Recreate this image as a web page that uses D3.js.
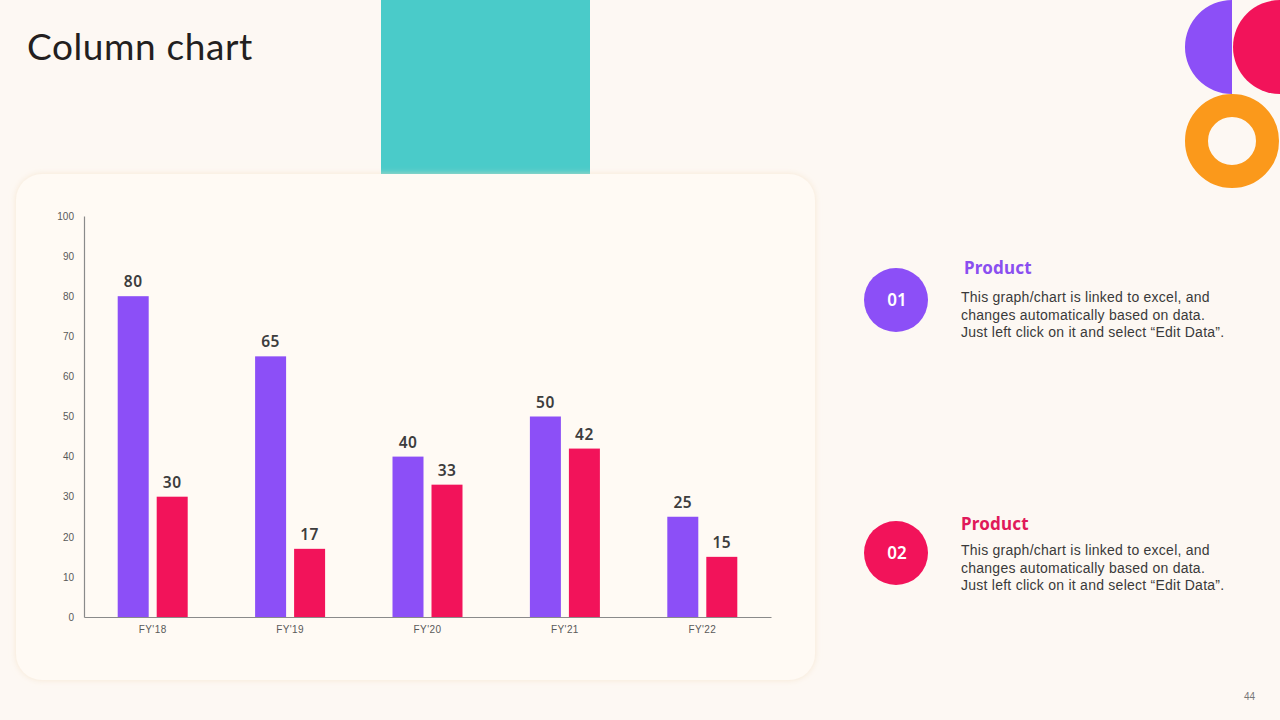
<!DOCTYPE html>
<html><head><meta charset="utf-8">
<script src="https://cdn.jsdelivr.net/npm/d3@7"></script>
<style>html,body{margin:0;padding:0;background:#fdf8f3;}svg{display:block;}</style>
</head><body>
<svg id="c" width="1280" height="720"></svg>
<script>
const categories = ["FY'18","FY'19","FY'20","FY'21","FY'22"];
const series1 = [80,65,40,50,25];
const series2 = [30,17,33,42,15];
const yTicks = [0,10,20,30,40,50,60,70,80,90,100];
const seriesNames = ["Product","Product"];
const badges = ["01","02"];
const bodyLines = ["This graph/chart is linked to excel, and","changes automatically based on data.","Just left click on it and select \u201cEdit Data\u201d."];

const svg = d3.select("#c");
const purple = "#8c4ff7", red = "#f2135a";

svg.append("rect").attr("width",1280).attr("height",720).attr("fill","#fdf8f3");
// teal block
svg.append("rect").attr("x",381).attr("y",0).attr("width",209).attr("height",174).attr("fill","#4acbc9");
// card
const defs = svg.append("defs");
const f = defs.append("filter").attr("id","sh").attr("x","-5%").attr("y","-5%").attr("width","110%").attr("height","110%");
f.append("feGaussianBlur").attr("in","SourceAlpha").attr("stdDeviation",3).attr("result","b");
f.append("feFlood").attr("flood-color","#f3dfc4").attr("flood-opacity",0.7);
f.append("feComposite").attr("in2","b").attr("operator","in");
const fm = f.append("feMerge"); fm.append("feMergeNode"); fm.append("feMergeNode").attr("in","SourceGraphic");
svg.append("rect").attr("x",16).attr("y",174).attr("width",799).attr("height",506).attr("rx",26)
  .attr("fill","#fffaf4").attr("filter","url(#sh)");

// title
svg.append("text").attr("x",27).attr("y",60).attr("font-family","Lato, 'Open Sans', sans-serif")
  .attr("font-size",37).attr("letter-spacing",0.6).attr("fill","#231f20").text("Column chart");

// decorations
svg.append("path").attr("d",d3.arc()({innerRadius:0,outerRadius:47,startAngle:Math.PI,endAngle:2*Math.PI}))
  .attr("transform","translate(1232,47)").attr("fill",purple);
svg.append("circle").attr("cx",1280).attr("cy",47).attr("r",47).attr("fill",red);
svg.append("circle").attr("cx",1232).attr("cy",141).attr("r",35.5).attr("fill","none").attr("stroke","#fb991b").attr("stroke-width",23);

// chart
const x = d3.scaleBand().domain(categories).range([84,771]);
const y = d3.scaleLinear().domain([0,100]).range([617,216]);
const g = svg.append("g");
const yAxis = g.append("g").attr("transform","translate(84,0)").call(d3.axisLeft(y).tickValues(yTicks).tickSize(0).tickPadding(10));
const xAxis = g.append("g").attr("transform","translate(0,617)").call(d3.axisBottom(x).tickSize(0).tickPadding(9));
[yAxis,xAxis].forEach(a=>{
  a.select(".domain").attr("stroke","#8a8a8a").attr("stroke-width",1.2);
  a.selectAll("text").attr("font-family","'Liberation Sans', Arial, sans-serif").attr("font-size",10).attr("fill","#595959");
});
xAxis.selectAll("text").attr("letter-spacing",0.4);

const bw = 31, gap = 4;
const data = categories.map((c,i)=>({c, a:series1[i], b:series2[i]}));
const cx = d => x(d.c) + x.bandwidth()/2;
g.selectAll(".b1").data(data).enter().append("rect").attr("x",d=>cx(d)-gap-bw).attr("y",d=>y(d.a))
  .attr("width",bw).attr("height",d=>y(0)-y(d.a)).attr("fill",purple);
g.selectAll(".b2").data(data).enter().append("rect").attr("x",d=>cx(d)+gap).attr("y",d=>y(d.b))
  .attr("width",bw).attr("height",d=>y(0)-y(d.b)).attr("fill",red);
const lblFont = "'Noto Sans', 'Open Sans', sans-serif";
g.selectAll(".l1").data(data).enter().append("text").attr("x",d=>cx(d)-gap-bw/2).attr("y",d=>y(d.a)-9)
  .attr("text-anchor","middle").attr("font-family",lblFont).attr("font-weight",600).attr("font-size",15.5).attr("letter-spacing",0.5).attr("fill","#3d3d3d").text(d=>d.a);
g.selectAll(".l2").data(data).enter().append("text").attr("x",d=>cx(d)+gap+bw/2).attr("y",d=>y(d.b)-9)
  .attr("text-anchor","middle").attr("font-family",lblFont).attr("font-weight",600).attr("font-size",15.5).attr("letter-spacing",0.5).attr("fill","#3d3d3d").text(d=>d.b);

// side legend blocks
const blocks = [{cy:300, color:purple, tcolor:"#8a4ff0", tx:964, ty:274},{cy:553, color:red, tcolor:"#e0195a", tx:961, ty:530}];
blocks.forEach((b,i)=>{
  svg.append("circle").attr("cx",896).attr("cy",b.cy).attr("r",32).attr("fill",b.color);
  svg.append("text").attr("x",897).attr("y",b.cy+6).attr("text-anchor","middle").attr("font-family",lblFont)
    .attr("font-weight",600).attr("font-size",17).attr("fill","#fff").text(badges[i]);
  svg.append("text").attr("x",b.tx).attr("y",b.ty).attr("font-family",lblFont).attr("font-weight",700)
    .attr("font-size",17).attr("letter-spacing",0.2).attr("fill",b.tcolor).text(seriesNames[i]);
  bodyLines.forEach((l,j)=>{
    svg.append("text").attr("x",961).attr("y",b.cy+2+j*17.5).attr("font-family","'Liberation Sans', Arial, sans-serif")
      .attr("font-size",14).attr("letter-spacing",0.25).attr("fill","#3a3a3a").text(l);
  });
});

svg.append("text").attr("x",1255).attr("y",700).attr("text-anchor","end").attr("font-family","'Liberation Sans', Arial, sans-serif")
  .attr("font-size",10).attr("fill","#777").text("44");
</script>
</body></html>
